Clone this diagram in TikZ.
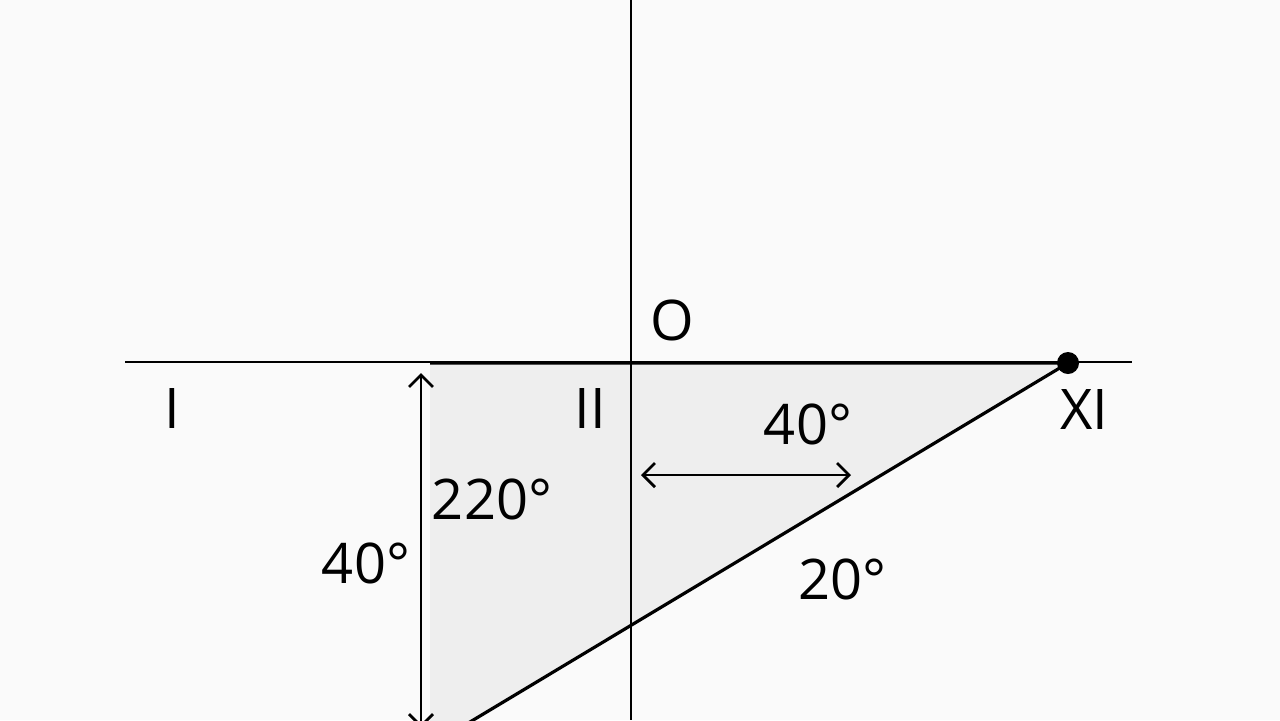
\documentclass[tikz,border=0pt]{standalone}
\usepackage{fontspec}
\setmainfont{Open Sans}
\usetikzlibrary{arrows.meta}
\definecolor{bg}{HTML}{FAFAFA}
\definecolor{trifill}{HTML}{EEEEEE}
\begin{document}
\begin{tikzpicture}[x=0.5pt,y=-0.5pt,
  lbl/.style={inner sep=0pt,font=\fontsize{28}{30}\selectfont},
  axis/.style={line width=0.75pt,black},
  edge/.style={line width=1.6pt,black},
  dimarrow/.style={line width=1.4pt,black,{Straight Barb[length=6pt,width=12pt,line width=1.4pt]}-{Straight Barb[length=6pt,width=12pt,line width=1.4pt]}}]
\fill[bg] (0,0) rectangle (1280,720);
\useasboundingbox (0,0) rectangle (1280,720);
\begin{scope}
\clip (0,0) rectangle (1280,720);
\coordinate (A) at (430,363);
\coordinate (B) at (1068,363);
\coordinate (C) at (430,746);
\coordinate (xl) at (125,362);
\coordinate (xr) at (1132,362);
\coordinate (yt) at (631,0);
\coordinate (yb) at (631,720);
\coordinate (v1) at (421,728);
\coordinate (v2) at (421,373);
\coordinate (h1) at (641,475);
\coordinate (h2) at (851,475);
\fill[trifill] (A) -- (B) -- (C) -- cycle;
\draw[axis] (xl) -- (xr);
\draw[axis] (yt) -- (yb);
\draw[edge] (A) -- (B) -- (C);
\fill (B) circle (11);
\draw[dimarrow] (v1) -- (v2);
\draw[dimarrow] (h1) -- (h2);
\node[lbl] (O) at (672,320) {O};
\node[lbl] (I) at (172,408) {I};
\node[lbl] (II) at (590,408) {II};
\node[lbl] (XI) at (1084,409) {XI};
\node[lbl] (t40) at (808,424) {40°};
\node[lbl] (t220) at (492,499) {220°};
\node[lbl] (l40) at (366,563) {40°};
\node[lbl] (t20) at (842,579) {20°};
\end{scope}
\end{tikzpicture}
\end{document}
